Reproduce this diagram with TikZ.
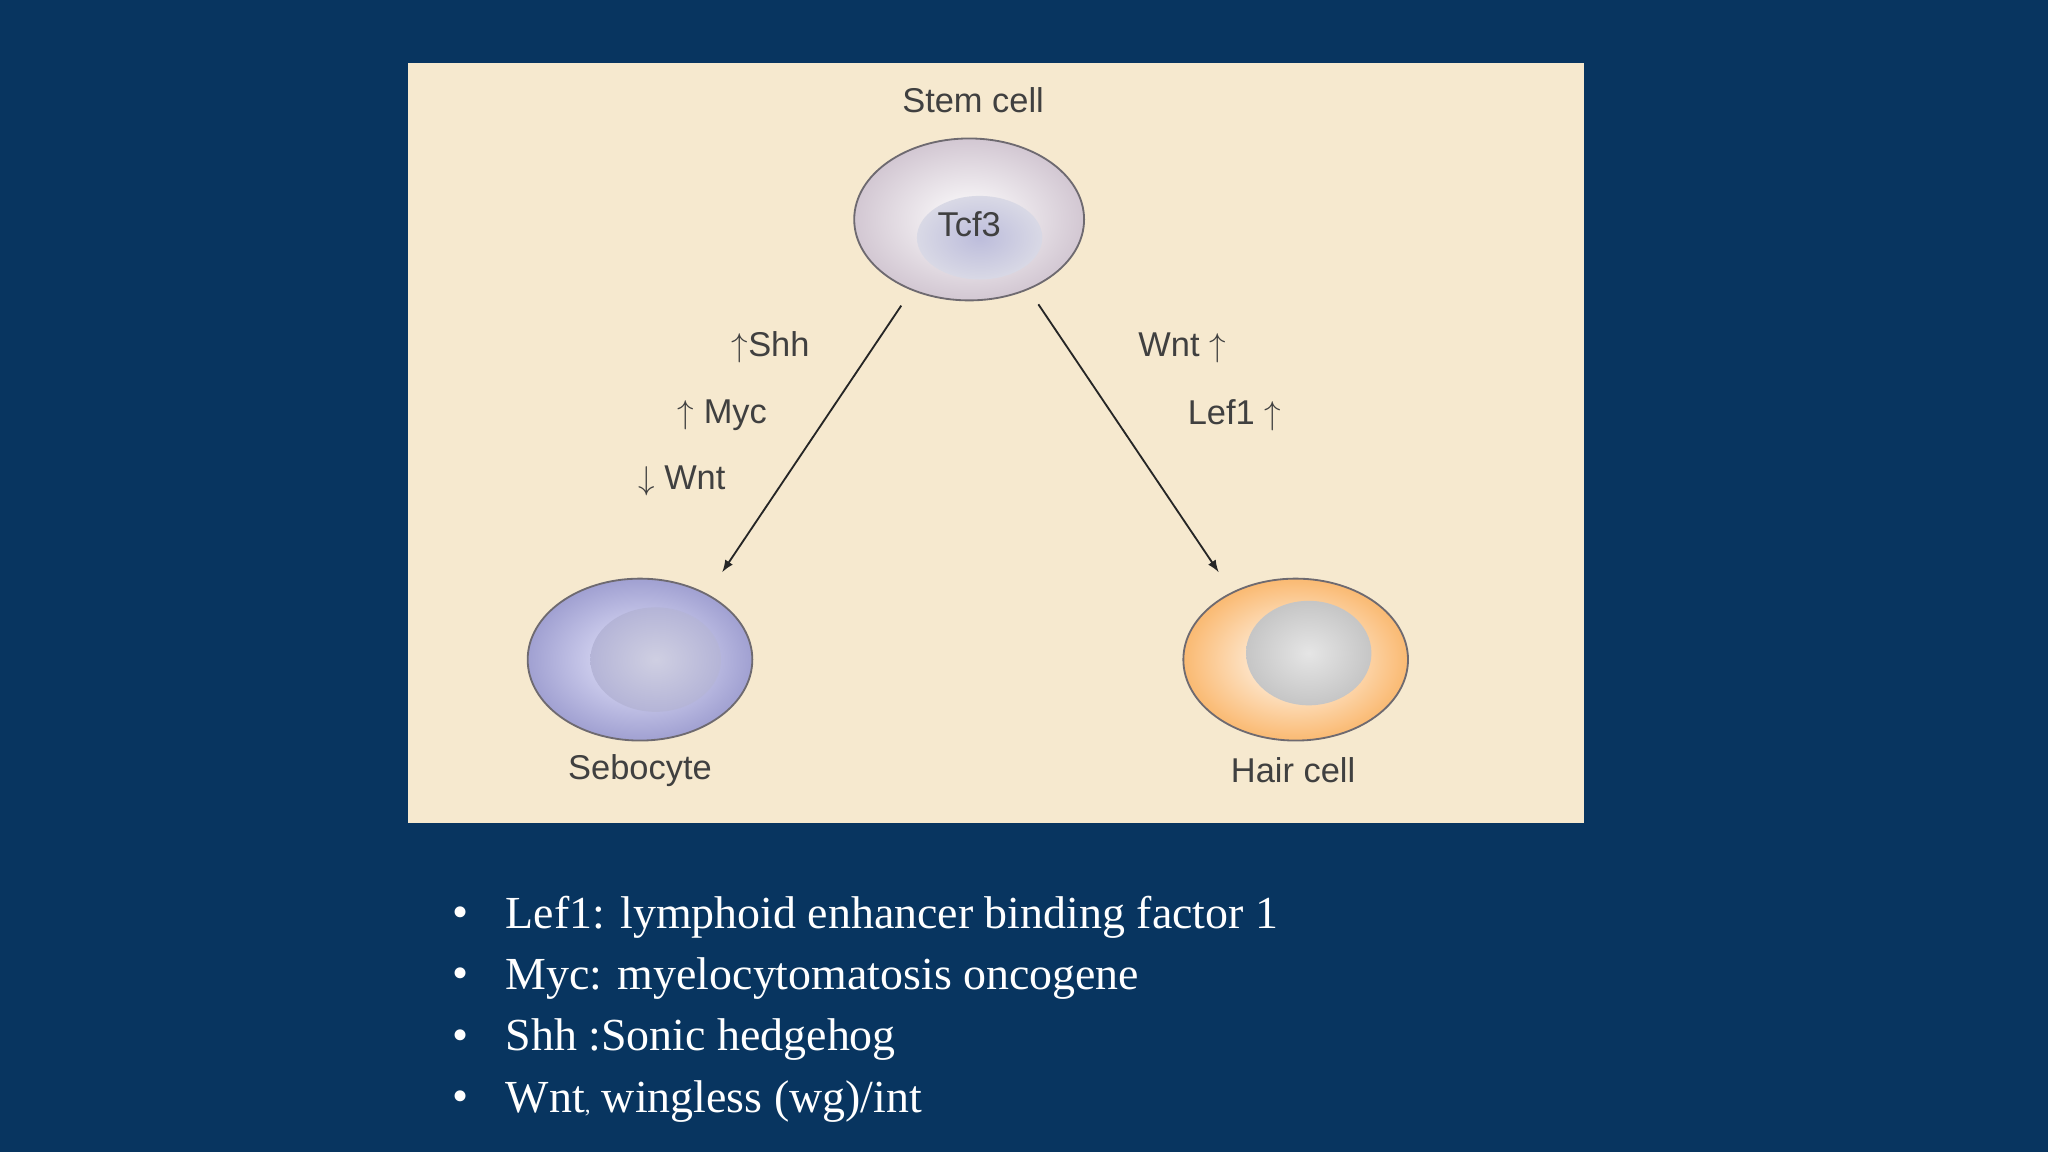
\documentclass[tikz,border=0pt]{standalone}
\usepackage{fontspec}
\setmainfont{Liberation Serif}
\newfontfamily\lab{Liberation Sans}
\definecolor{navy}{HTML}{083560}
\definecolor{panel}{HTML}{F6E9CF}
\definecolor{rimgrey}{HTML}{6E6A70}
\begin{document}
\begin{tikzpicture}[x=0.02cm,y=-0.02cm,
  lbl/.style={font=\lab\fontsize{15}{18}\selectfont,text=black!75},
  bul/.style={font=\fontsize{20}{24}\selectfont,text=white,anchor=west},
  arr/.style={-latex,thick,black!85}]
  \fill[navy] (0,0) rectangle (1568,882);
  \useasboundingbox (0,0) rectangle (1568,882);
  \fill[panel] (312,48) rectangle (1213,630);
  % stem cell
  \node[lbl] (stemlbl) at (745,77) {Stem cell};
  \shade[inner color=white,outer color=violet!25!gray!35,draw=rimgrey,thick]
    (742,168) ellipse (88 and 62);
  \shade[inner color=blue!30!gray!40,outer color=blue!20!gray!25]
    (750,182) ellipse (48 and 32);
  \node[lbl] (stem) at (742,172) {Tcf3};
  % sebocyte
  \shade[inner color=blue!8!white,outer color=blue!35!gray!55,draw=rimgrey,thick]
    (490,505) ellipse (86 and 62);
  \shade[inner color=blue!25!gray!30,outer color=blue!30!gray!45]
    (502,505) ellipse (50 and 40);
  \node[lbl] (seblbl) at (490,590) {Sebocyte};
  \coordinate (seb) at (553,438);
  % hair cell
  \shade[inner color=white,outer color=orange!45!panel,draw=rimgrey,thick]
    (992,505) ellipse (86 and 62);
  \shade[inner color=gray!20,outer color=gray!45]
    (1002,500) ellipse (48 and 40);
  \node[lbl] (hairlbl) at (990,590) {Hair cell};
  \coordinate (hair) at (933,438);
  % arrows
  \coordinate (s1) at (690,234);
  \coordinate (s2) at (795,233);
  \draw[arr] (s1) -- (seb);
  \draw[arr] (s2) -- (hair);
  % labels
  \node[lbl] (l1) at (590,266) {$\uparrow$Shh};
  \node[lbl] (l2) at (553,318) {$\uparrow$ Myc};
  \node[lbl] (l3) at (522,368) {$\downarrow$ Wnt};
  \node[lbl] (r1) at (905,266) {Wnt $\uparrow$};
  \node[lbl] (r2) at (945,318) {Lef1 $\uparrow$};
  % bullets
  \foreach \t [count=\i] in {Lef1: lymphoid enhancer binding factor 1,
      Myc: myelocytomatosis oncogene, Shh :Sonic hedgehog,
      {Wnt{\fontsize{10}{12}\selectfont,} wingless (wg)/int}} {
    \node[bul] (b\i) at (340,655+47*\i) {\textbullet};
    \node[bul] (t\i) at (381,655+47*\i) {\t};
  }
\end{tikzpicture}
\end{document}
